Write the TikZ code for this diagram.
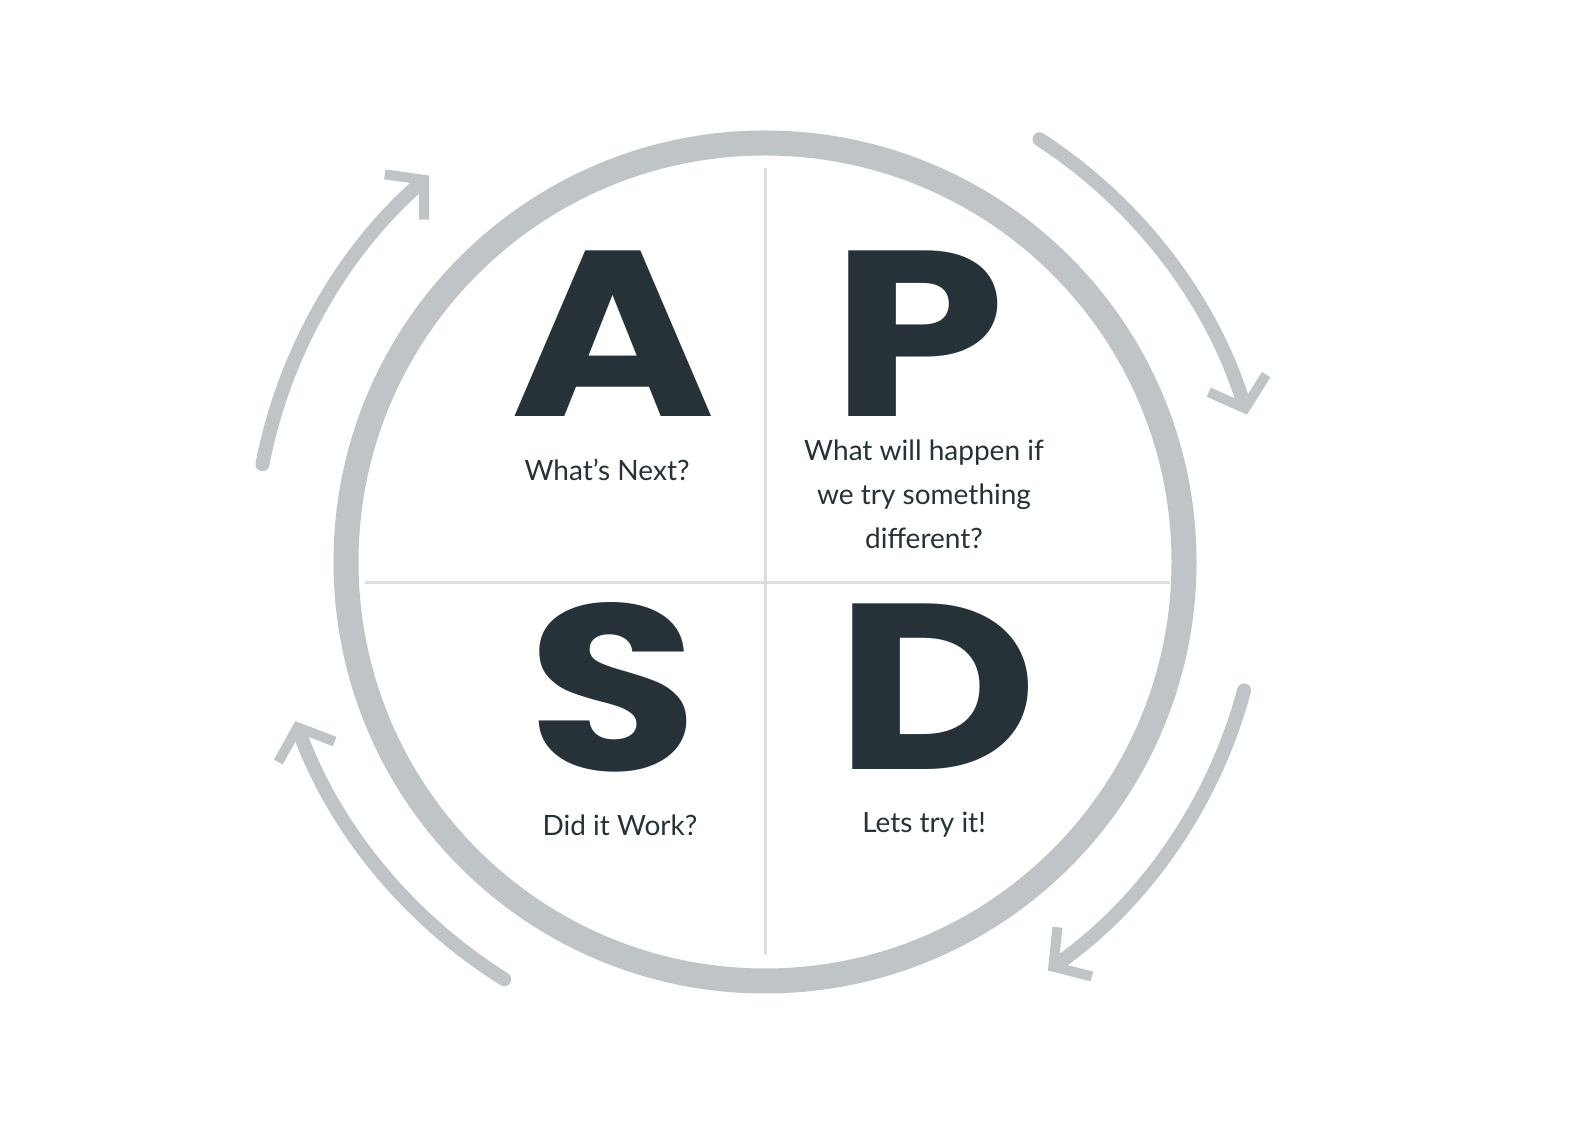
\documentclass[tikz,border=0pt]{standalone}
\usepackage{fontspec}
\setmainfont{Lato}
\newfontfamily\bigf{Poppins}
\usetikzlibrary{arrows.meta}
\definecolor{ring}{HTML}{BFC4C6}
\definecolor{divc}{HTML}{DDDDDD}
\definecolor{ink}{HTML}{263238}
\tikzset{
 letter/.style={font=\bigf\bfseries\fontsize{118}{118}\selectfont,text=ink,inner sep=0pt,xscale=1.18},
 lab/.style={font=\fontsize{14}{22}\selectfont,text=ink,align=center,inner sep=0pt},
 cyc/.style={draw=ring,line width=7pt,line cap=round,-{Straight Barb[length=13pt,width=30pt,line width=5pt]}}
}
\begin{document}
\begin{tikzpicture}[x=0.5pt,y=0.5pt]
\useasboundingbox (0,0) rectangle (1588,1123);
\fill[white] (0,0) rectangle (1588,1123);
\coordinate (C) at (765,561);
\draw[ring,line width=12.5pt] (C) circle[radius=209.5pt];
\coordinate (vt) at (765,955); \coordinate (vb) at (765,168);
\coordinate (hl) at (365,540); \coordinate (hr) at (1170,540);
\draw[divc,line width=1.5pt] (vt) -- (vb);
\draw[divc,line width=1.5pt] (hl) -- (hr);
\node[letter] (A) at (613,789) {A};
\node[letter] (P) at (918,789) {P};
\node[letter] (S) at (613,436) {S};
\node[letter] (D) at (937,436) {D};
\node[lab] (la) at (607,653) {What's Next?};
\node[lab] (lp) at (924,629) {What will happen if\\we try something\\different?};
\node[lab] (ls) at (620,298) {Did it Work?};
\node[lab] (ld) at (924,298) {Lets try it!};
\draw[cyc] (C) ++(169:256pt) arc[start angle=169,end angle=131,radius=256pt];
\draw[cyc] (C) ++(57:252pt) arc[start angle=57,end angle=17,radius=252pt];
\draw[cyc] (C) ++(-15:248pt) arc[start angle=-15,end angle=-55,radius=250pt];
\draw[cyc] (C) ++(-122:246pt) arc[start angle=-122,end angle=-160,radius=255pt];
\end{tikzpicture}
\end{document}
